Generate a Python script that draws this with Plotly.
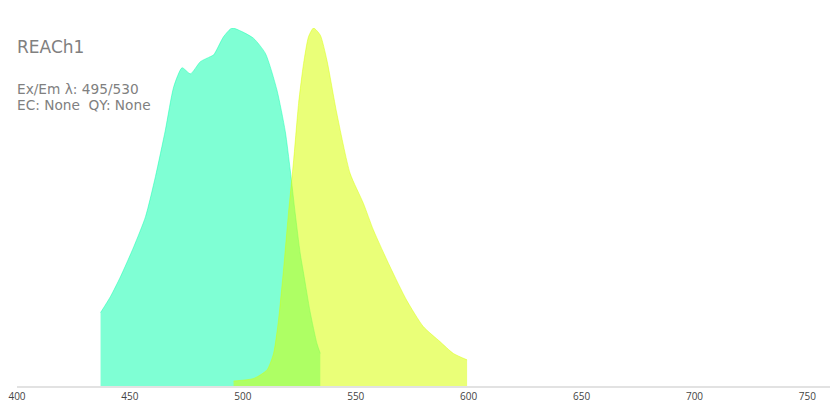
import plotly.graph_objects as go

# REACh1 spectra (normalised 0-1)
ex_wl = [437.0, 441.4, 445.8, 451.7, 456.9, 461.3, 465.7, 469.4, 473.1, 476.8,
         481.2, 485.6, 487.1, 491.5, 495.2, 499.6, 504.8, 510.0, 515.1, 518.8,
         521.0, 523.2, 525.4, 526.9, 529.8, 532.8, 534.3]
ex_val = [0.205, 0.250, 0.305, 0.389, 0.473, 0.585, 0.715, 0.836, 0.889, 0.872,
          0.906, 0.920, 0.925, 0.976, 1.000, 0.990, 0.971, 0.929, 0.827, 0.711,
          0.603, 0.482, 0.371, 0.315, 0.207, 0.119, 0.091]

em_wl = [495.9, 504.8, 510.7, 513.6, 515.8, 518.0, 520.2, 522.5, 524.7, 526.9,
         529.1, 531.3, 534.3, 537.2, 541.6, 547.5, 553.4, 557.8, 565.2, 572.5,
         579.9, 587.3, 593.2, 599.3]
em_val = [0.014, 0.021, 0.045, 0.091, 0.184, 0.324, 0.482, 0.631, 0.790, 0.901,
          0.976, 1.000, 0.980, 0.911, 0.762, 0.594, 0.510, 0.436, 0.333, 0.240,
          0.166, 0.124, 0.091, 0.073]

tick_vals = [400, 450, 500, 550, 600, 650, 700, 750]

fig = go.Figure()

fig.add_trace(go.Scatter(
    x=ex_wl, y=ex_val, mode='lines', fill='tozeroy',
    line=dict(color='rgba(0,255,170,0.55)', width=0.8, shape='spline', smoothing=0.6),
    fillcolor='rgba(0,255,170,0.5)', hoverinfo='skip'
))
fig.add_trace(go.Scatter(
    x=em_wl, y=em_val, mode='lines', fill='tozeroy',
    line=dict(color='rgba(216,255,0,0.58)', width=0.8, shape='spline', smoothing=0.6),
    fillcolor='rgba(216,255,0,0.53)', hoverinfo='skip'
))

gray = '#808080'
fig.add_annotation(text='REACh1', xref='paper', yref='paper', x=0.0, y=0.947, xshift=-2,
                   xanchor='left', yanchor='middle', showarrow=False,
                   font=dict(family='DejaVu Sans', size=17, color=gray))
fig.add_annotation(text='Ex/Em λ: 495/530', xref='paper', yref='paper', x=0.0, y=0.831, xshift=-2,
                   xanchor='left', yanchor='middle', showarrow=False,
                   font=dict(family='DejaVu Sans', size=13.7, color=gray))
fig.add_annotation(text='EC: None  QY: None', xref='paper', yref='paper', x=0.0, y=0.786, xshift=-2,
                   xanchor='left', yanchor='middle', showarrow=False,
                   font=dict(family='DejaVu Sans', size=13.7, color=gray))

fig.update_layout(
    width=840, height=420,
    margin=dict(l=9, r=18, t=20, b=42),
    plot_bgcolor='white', paper_bgcolor='white',
    showlegend=False,
    xaxis=dict(range=[400, 760], tickvals=tick_vals, showgrid=False, zeroline=False,
               showline=True, linecolor='#e2e2e2', linewidth=2, ticks='', automargin=False,
               ticklabeloverflow='allow',
               tickfont=dict(family='Open Sans', size=10, color='#444')),
    yaxis=dict(range=[0, 1], visible=False, showgrid=False, zeroline=False, automargin=False),
)

fig.write_html("out.html")
